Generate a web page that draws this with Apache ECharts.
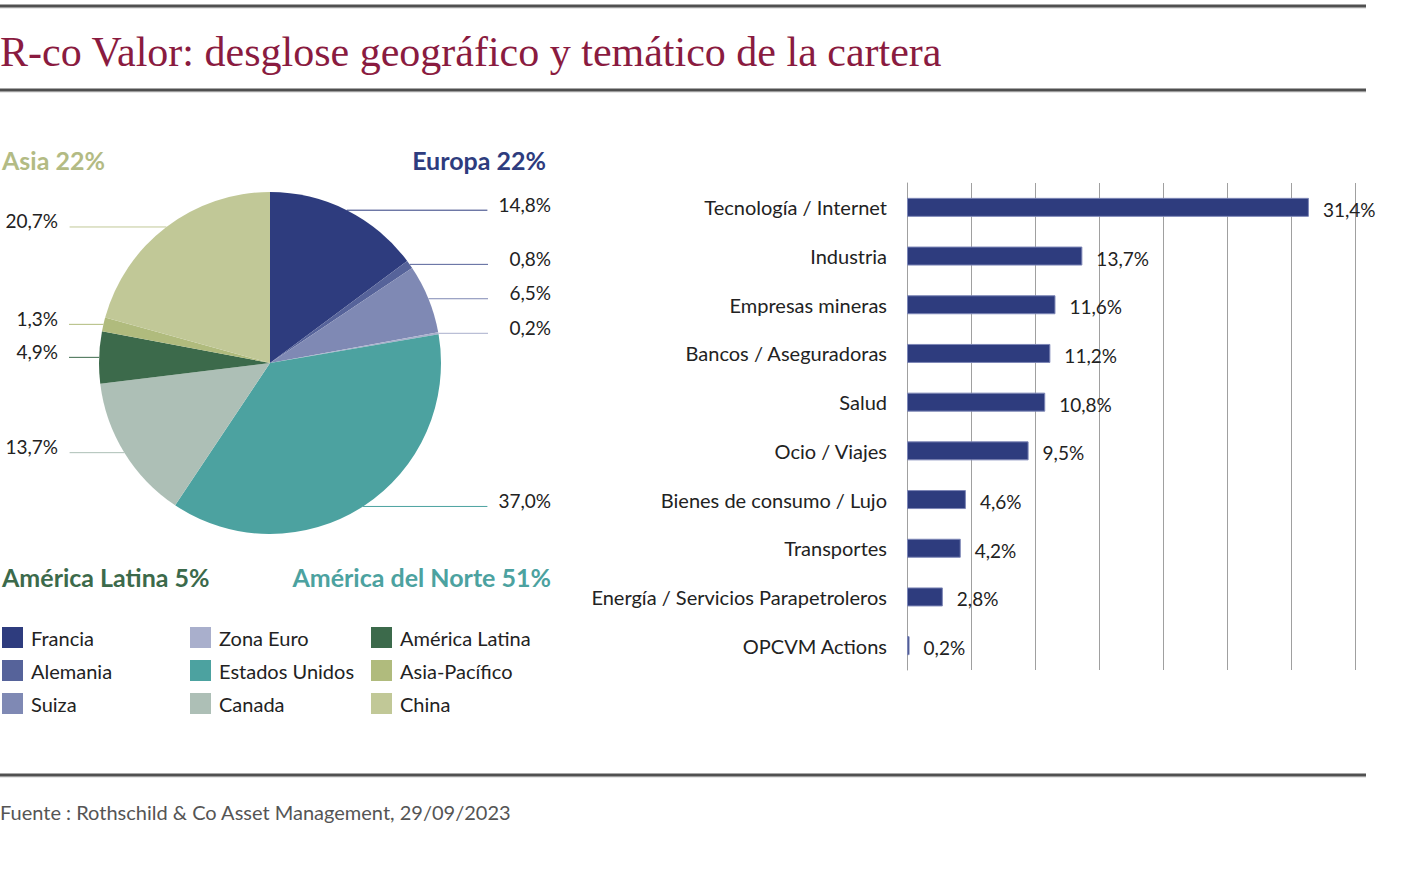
<!DOCTYPE html>
<html>
<head>
<meta charset="utf-8">
<script src="https://cdn.jsdelivr.net/npm/echarts@6/dist/echarts.min.js"></script>
<style>
  html, body { margin: 0; width: 100%; height: 100%; background: #fff; }
</style>
</head>
<body>
<div id="main" style="width:1414px;height:870px;"></div>
<script>
// geographic breakdown (pie)
var regionNames = ['Francia', 'Alemania', 'Suiza', 'Zona Euro', 'Estados Unidos', 'Canada', 'América Latina', 'Asia-Pacífico', 'China'];
var regionValues = [14.8, 0.8, 6.5, 0.2, 37.0, 13.7, 4.9, 1.3, 20.7];
var regionColors = ['#2e3c7e', '#56639a', '#7f89b4', '#a9afcc', '#4ca2a0', '#adbfb6', '#3c6a4b', '#b0bb7d', '#c1c897'];

// group headings around the pie
var groupLabels = ['Asia 22%', 'Europa 22%', 'América Latina 5%', 'América del Norte 51%'];
var groupColors = ['#b3bb84', '#2e3c7e', '#3c6a4b', '#4ca2a0'];

// thematic breakdown (bars)
var sectorNames = ['Tecnología / Internet', 'Industria', 'Empresas mineras', 'Bancos / Aseguradoras', 'Salud', 'Ocio / Viajes', 'Bienes de consumo / Lujo', 'Transportes', 'Energía / Servicios Parapetroleros', 'OPCVM Actions'];
var sectorValues = [31.4, 13.7, 11.6, 11.2, 10.8, 9.5, 4.6, 4.2, 2.8, 0.2];

var titleText = 'R-co Valor: desglose geográfico y temático de la cartera';
var sourceText = 'Fuente : Rothschild & Co Asset Management, 29/09/2023';

var sans = 'Lato, "Noto Sans", sans-serif';

function pct(v) {
    return v.toFixed(1).replace('.', ',') + '%';
}

var chart = echarts.init(document.getElementById('main'), null, { renderer: 'svg' });

var pieData = regionNames.map(function (n, i) {
    return { name: n, value: regionValues[i], itemStyle: { color: regionColors[i] } };
});

function legendCol(names, left) {
    return {
        orient: 'vertical',
        left: left,
        top: 627,
        padding: 0,
        itemWidth: 21,
        itemHeight: 21,
        itemGap: 12,
        icon: 'rect',
        selectedMode: false,
        data: names,
        textStyle: { fontFamily: sans, fontSize: 20, color: '#222', padding: [0, 0, 0, 3] }
    };
}

function rule(y) {
    return {
        type: 'group',
        children: [
            { type: 'line', shape: { x1: 0, y1: y + 2, x2: 1366, y2: y + 2 }, style: { stroke: '#d0d0d0', lineWidth: 1 } },
            { type: 'line', shape: { x1: 0, y1: y, x2: 1366, y2: y }, style: { stroke: '#505050', lineWidth: 3 } }
        ]
    };
}

function heading(i, x, y, align) {
    return {
        type: 'text', x: x, y: y,
        style: {
            text: groupLabels[i], fill: groupColors[i],
            font: 'bold 25px ' + sans, textVerticalAlign: 'middle', textAlign: align
        }
    };
}

var option = {
    backgroundColor: '#fff',
    animation: false,
    graphic: [
        rule(6),
        rule(90),
        rule(775),
        {
            type: 'text', x: 0, y: 52,
            style: { text: titleText, fill: '#8a1b40', font: '42px "Liberation Serif", "DejaVu Serif", serif', textVerticalAlign: 'middle' }
        },
        {
            type: 'text', x: 0, y: 812,
            style: { text: sourceText, fill: '#555', font: '20px ' + sans, textVerticalAlign: 'middle' }
        },
        heading(0, 2, 160, 'left'),
        heading(1, 546, 160, 'right'),
        heading(2, 2, 577, 'left'),
        heading(3, 551, 577, 'right')
    ],
    legend: [
        legendCol(regionNames.slice(0, 3), 2),
        legendCol(regionNames.slice(3, 6), 190),
        legendCol(regionNames.slice(6, 9), 371)
    ],
    grid: { left: 907, top: 183, width: 448, height: 487 },
    xAxis: {
        type: 'value', min: 0, max: 35, interval: 5,
        axisLabel: { show: false },
        axisLine: { show: false },
        axisTick: { show: false },
        splitLine: { lineStyle: { color: '#a0a0a0', width: 1 } }
    },
    yAxis: {
        type: 'category',
        inverse: true,
        data: sectorNames,
        axisLine: { lineStyle: { color: '#a0a0a0', width: 1 } },
        axisTick: { show: false },
        axisLabel: { margin: 20, fontFamily: sans, fontSize: 20, color: '#222' }
    },
    series: [
        {
            type: 'pie',
            left: 0, top: 0, width: 557, height: 870,
            center: [270, 363],
            radius: 171,
            startAngle: 90,
            clockwise: true,
            data: pieData,
            label: {
                position: 'outside',
                alignTo: 'edge',
                edgeDistance: 6,
                distanceToLabelLine: 11,
                formatter: function (p) { return '{v|' + pct(p.value) + '}'; },
                rich: {
                    v: { width: 52, align: 'right', fontFamily: sans, fontSize: 19, color: '#222', lineHeight: 12 }
                },
                lineHeight: 12,
                padding: [0, 0, 12, 0]
            },
            labelLine: { show: true, length: 0, length2: 10, lineStyle: { width: 1 } },
            emphasis: { disabled: true }
        },
        {
            type: 'bar',
            data: sectorValues,
            barWidth: 19,
            itemStyle: { color: '#2e3c7e', borderColor: '#7d86b6', borderWidth: 1 },
            label: {
                show: true,
                position: 'right',
                distance: 14,
                offset: [0, 2],
                fontFamily: sans,
                fontSize: 19,
                color: '#222',
                formatter: function (p) { return pct(p.value); }
            }
        }
    ]
};

chart.setOption(option);
</script>
</body>
</html>
